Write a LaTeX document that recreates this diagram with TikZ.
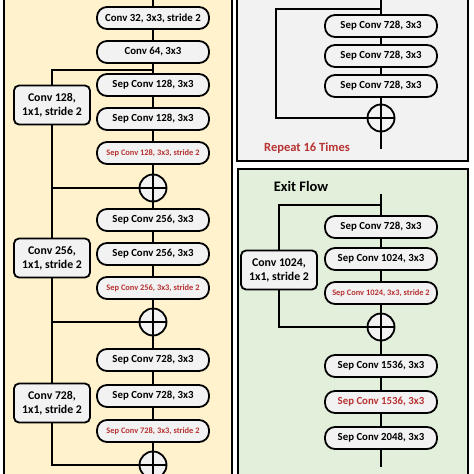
\documentclass[tikz,border=0pt]{standalone}
\usepackage{fontspec}
\setmainfont{Carlito}
\definecolor{entrybg}{HTML}{FFF2CC}
\definecolor{middlebg}{HTML}{F2F2F2}
\definecolor{exitbg}{HTML}{E2EFDA}
\definecolor{boxfill}{HTML}{F2F2F2}
\definecolor{redtxt}{HTML}{B83232}
\begin{document}
\begin{tikzpicture}[x=1pt,y=-1pt,line width=1.8pt,
  panel/.style={draw,line width=1.6pt},
  sepbox/.style={draw,rounded corners=10pt,fill=boxfill,minimum width=112pt,minimum height=22pt,inner sep=0pt,font=\bfseries\fontsize{10.8}{12}\selectfont},
  sepred/.style={sepbox,text=redtxt,font=\bfseries\fontsize{8.4}{9}\selectfont},
  skipbox/.style={draw,rounded corners=5pt,fill=boxfill,minimum width=76pt,minimum height=39pt,align=center,inner sep=0pt,font=\bfseries\fontsize{11.8}{14}\selectfont},
  addc/.style={circle,draw,fill=boxfill,minimum size=27pt,inner sep=0pt,
    path picture={\draw[line width=1.8pt] (path picture bounding box.north) -- (path picture bounding box.south)
      (path picture bounding box.west) -- (path picture bounding box.east);}},
  title/.style={font=\bfseries\fontsize{14.5}{16}\selectfont},
  reptext/.style={font=\bfseries\fontsize{12.5}{14}\selectfont,text=redtxt}
]
\useasboundingbox[fill=white] (0,0) rectangle (474,474);
% panels
\fill[entrybg] (4,-5) rectangle (232,480);
\draw[panel] (4,-5) rectangle (232,480);
\fill[middlebg] (237,-5) rectangle (468,161);
\draw[panel] (237,-5) rectangle (468,161);
\fill[exitbg] (238,169) rectangle (468,480);
\draw[panel] (238,169) rectangle (468,480);

% ---------- Entry flow ----------
\coordinate (ltop) at (153,-5);
\node[sepbox] (c32) at (153,18) {Conv 32, 3x3, stride 2};
\node[sepbox] (c64) at (153,52) {Conv 64, 3x3};
\coordinate (lb1) at (153,70);
\coordinate (lk1) at (52,70);
\node[sepbox] (s128a) at (153,85) {Sep Conv 128, 3x3};
\node[skipbox] (k128) at (52,105) {Conv 128,\\1x1, stride 2};
\node[sepbox] (s128b) at (153,119) {Sep Conv 128, 3x3};
\node[sepred] (s128c) at (153,153) {Sep Conv 128, 3x3, stride 2};
\node[addc] (p1) at (153,188) {};
\coordinate (lk2) at (52,188);
\node[sepbox] (s256a) at (153,220) {Sep Conv 256, 3x3};
\node[skipbox] (k256) at (52,258) {Conv 256,\\1x1, stride 2};
\node[sepbox] (s256b) at (153,254) {Sep Conv 256, 3x3};
\node[sepred] (s256c) at (153,288) {Sep Conv 256, 3x3, stride 2};
\node[addc] (p2) at (153,322) {};
\coordinate (lk3) at (52,322);
\node[sepbox] (s728a) at (153,360) {Sep Conv 728, 3x3};
\node[skipbox] (k728) at (52,403) {Conv 728,\\1x1, stride 2};
\node[sepbox] (s728b) at (153,396) {Sep Conv 728, 3x3};
\node[sepred] (s728c) at (153,431) {Sep Conv 728, 3x3, stride 2};
\node[addc] (p3) at (153,465) {};
\coordinate (lk4) at (52,465);
\coordinate (lbot) at (153,485);

\draw (ltop) -- (c32);
\draw (c32) -- (c64);
\draw (c64) -- (s128a);
\draw (s128a) -- (s128b);
\draw (s128b) -- (s128c);
\draw (s128c) -- (p1);
\draw (p1) -- (s256a);
\draw (s256a) -- (s256b);
\draw (s256b) -- (s256c);
\draw (s256c) -- (p2);
\draw (p2) -- (s728a);
\draw (s728a) -- (s728b);
\draw (s728b) -- (s728c);
\draw (s728c) -- (p3);
\draw (p3) -- (lbot);
\draw (lb1) -- (lk1) -- (k128);
\draw (k128) -- (lk2) -- (p1);
\draw (lk2) -- (k256);
\draw (k256) -- (lk3) -- (p2);
\draw (lk3) -- (k728);
\draw (k728) -- (lk4) -- (p3);

% ---------- Middle flow ----------
\coordinate (mtop) at (381,-5);
\coordinate (mb) at (381,9);
\coordinate (mk1) at (276,9);
\node[sepbox] (m1) at (381,26) {Sep Conv 728, 3x3};
\node[sepbox] (m2) at (381,56) {Sep Conv 728, 3x3};
\node[sepbox] (m3) at (381,86) {Sep Conv 728, 3x3};
\node[addc] (mp) at (381,118) {};
\coordinate (mk2) at (276,118);
\coordinate (mbot) at (381,149);
\node[reptext] (rep) at (307,148) {Repeat 16 Times};
\draw (mtop) -- (m1);
\draw (m1) -- (m2);
\draw (m2) -- (m3);
\draw (m3) -- (mp);
\draw (mp) -- (mbot);
\draw (mb) -- (mk1) -- (mk2) -- (mp);

% ---------- Exit flow ----------
\node[title] (ext) at (301,186) {Exit Flow};
\coordinate (etop) at (381,194);
\coordinate (eb) at (381,205);
\coordinate (ek1) at (279,205);
\node[sepbox] (e728) at (381,227) {Sep Conv 728, 3x3};
\node[skipbox] (k1024) at (279,270) {Conv 1024,\\1x1, stride 2};
\node[sepbox] (e1024) at (381,259) {Sep Conv 1024, 3x3};
\node[sepred] (e1024s) at (381,293) {Sep Conv 1024, 3x3, stride 2};
\node[addc] (ep) at (381,327) {};
\coordinate (ek2) at (279,327);
\node[sepbox] (e1536a) at (381,366) {Sep Conv 1536, 3x3};
\node[sepbox,text=redtxt] (e1536b) at (381,402) {Sep Conv 1536, 3x3};
\node[sepbox] (e2048) at (381,438) {Sep Conv 2048, 3x3};
\coordinate (ebot) at (381,467);
\draw (etop) -- (e728);
\draw (e728) -- (e1024);
\draw (e1024) -- (e1024s);
\draw (e1024s) -- (ep);
\draw (ep) -- (e1536a);
\draw (e1536a) -- (e1536b);
\draw (e1536b) -- (e2048);
\draw (e2048) -- (ebot);
\draw (eb) -- (ek1) -- (k1024);
\draw (k1024) -- (ek2) -- (ep);
\end{tikzpicture}
\end{document}
